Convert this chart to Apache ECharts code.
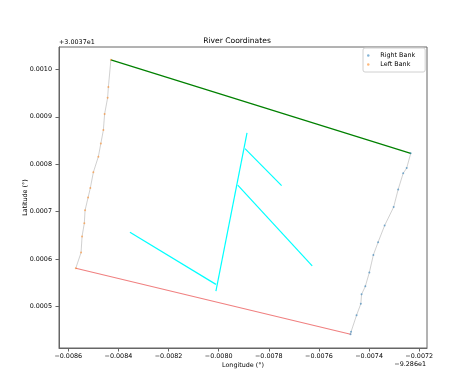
<!DOCTYPE html>
<html>
<head>
<meta charset="utf-8">
<script src="https://cdn.jsdelivr.net/npm/echarts@6/dist/echarts.min.js"></script>
<style>
  html, body { margin: 0; padding: 0; background: #fff; }
  #chart { width: 474px; height: 391px; }
</style>
</head>
<body>
<div id="chart"></div>
<script>
// values are offsets: lon = -92.86 + x, lat = 30.037 + y
var lonOffsetText = '\u22129.286e1';
var latOffsetText = '+3.0037e1';

var rightBankLon = [-0.007234, -0.007250, -0.007264, -0.007284, -0.007302, -0.007338, -0.007364, -0.007383,
    -0.007399, -0.007415, -0.007430, -0.007433, -0.007450, -0.007472, -0.007474];
var rightBankLat = [0.000823, 0.000792, 0.000781, 0.000747, 0.000710, 0.000671, 0.000636, 0.000609,
    0.000572, 0.000543, 0.000526, 0.000506, 0.000482, 0.000447, 0.000442];

var leftBankLon = [-0.008430, -0.008440, -0.008443, -0.008455, -0.008460, -0.008470, -0.008480, -0.008500,
    -0.008512, -0.008521, -0.008533, -0.008536, -0.008545, -0.008549, -0.008570];
var leftBankLat = [0.001020, 0.000963, 0.000940, 0.000906, 0.000872, 0.000844, 0.000816, 0.000783,
    0.000750, 0.000730, 0.000703, 0.000676, 0.000648, 0.000614, 0.000581];

// channel segments [lon1, lat1, lon2, lat2]
var channels = [
    [-0.008011, 0.000533, -0.007887, 0.000866],
    [-0.008354, 0.000657, -0.008011, 0.000547],
    [-0.007895, 0.000833, -0.007749, 0.000755],
    [-0.007924, 0.000756, -0.007627, 0.000586]
];

var xTicks = [-0.0086, -0.0084, -0.0082, -0.0080, -0.0078, -0.0076, -0.0074, -0.0072];
var yTicks = [0.0005, 0.0006, 0.0007, 0.0008, 0.0009, 0.0010];

function pairs(xs, ys) {
    var out = [];
    for (var i = 0; i < xs.length; i++) out.push([xs[i], ys[i]]);
    return out;
}
function fmt(v) {
    return v.toFixed(4).replace('-', '\u2212');
}

var rightPts = pairs(rightBankLon, rightBankLat);
var leftPts = pairs(leftBankLon, leftBankLat);
var last = rightPts.length - 1;

var myChart = echarts.init(document.getElementById('chart'));
var font = 'DejaVu Sans';

var series = [
    {name: 'rightLine', type: 'line', data: rightPts, showSymbol: false, silent: true,
        lineStyle: {color: '#c4c4c4', width: 0.8}},
    {name: 'leftLine', type: 'line', data: leftPts, showSymbol: false, silent: true,
        lineStyle: {color: '#c4c4c4', width: 0.8}},
    {name: 'upstream', type: 'line', data: [leftPts[0], rightPts[0]], showSymbol: false,
        lineStyle: {color: '#008000', width: 1.2}},
    {name: 'downstream', type: 'line', data: [leftPts[leftPts.length - 1], rightPts[last]], showSymbol: false,
        lineStyle: {color: '#f08080', width: 1.2}}
];
channels.forEach(function (c, i) {
    series.push({name: 'channel' + i, type: 'line', data: [[c[0], c[1]], [c[2], c[3]]], showSymbol: false,
        lineStyle: {color: '#00ffff', width: 1.2}});
});
series.push({name: 'Right Bank', type: 'scatter', data: rightPts, symbolSize: 2,
    itemStyle: {color: '#1f77b4', opacity: 0.55}, z: 5});
series.push({name: 'Left Bank', type: 'scatter', data: leftPts, symbolSize: 2,
    itemStyle: {color: '#ff7f0e', opacity: 0.55}, z: 5});

var option = {
    backgroundColor: '#fff',
    animation: false,
    title: {
        text: 'River Coordinates',
        left: 'center',
        top: 37,
        padding: 0,
        textStyle: {fontFamily: font, fontSize: 7.6, fontWeight: 'normal', color: '#000'}
    },
    legend: {
        data: ['Right Bank', 'Left Bank'],
        orient: 'vertical',
        left: 363,
        top: 48,
        padding: [4, 10, 4, 4],
        itemGap: 2,
        itemWidth: 14,
        itemHeight: 2.5,
        icon: 'circle',
        borderColor: '#d0d0d0',
        borderWidth: 1,
        borderRadius: 2,
        backgroundColor: 'rgba(255,255,255,0.8)',
        textStyle: {fontFamily: font, fontSize: 6.4, color: '#000', lineHeight: 7}
    },
    grid: {
        left: 59, top: 47, width: 368, height: 301,
        show: true, borderColor: '#666', borderWidth: 1, containLabel: false
    },
    xAxis: {
        type: 'value',
        min: -0.008637,
        max: -0.007169,
        name: 'Longitude (\u00b0)',
        nameLocation: 'middle',
        nameGap: 14.5,
        nameMoveOverlap: false,
        nameTextStyle: {fontFamily: font, fontSize: 6.4, color: '#000'},
        axisLine: {show: true, onZero: false, lineStyle: {color: '#666', width: 1}},
        axisTick: {show: true, length: 3.5, lineStyle: {color: '#666'}, customValues: xTicks},
        axisLabel: {fontFamily: font, fontSize: 6.4, color: '#000', margin: 5,
            customValues: xTicks, formatter: fmt},
        splitLine: {show: false}
    },
    yAxis: {
        type: 'value',
        min: 0.000413,
        max: 0.001047,
        name: 'Latitude (\u00b0)',
        nameLocation: 'middle',
        nameGap: 31,
        nameMoveOverlap: false,
        nameTextStyle: {fontFamily: font, fontSize: 6.4, color: '#000'},
        axisLine: {show: true, onZero: false, lineStyle: {color: '#666', width: 1}},
        axisTick: {show: true, length: 3.5, lineStyle: {color: '#666'}, customValues: yTicks},
        axisLabel: {fontFamily: font, fontSize: 6.4, color: '#000', margin: 7,
            customValues: yTicks, formatter: fmt},
        splitLine: {show: false}
    },
    graphic: [
        {type: 'text', left: 59, top: 39,
            style: {text: latOffsetText, fontFamily: font, fontSize: 6.4, fill: '#000'}},
        {type: 'text', right: 48, top: 361,
            style: {text: lonOffsetText, fontFamily: font, fontSize: 6.4, fill: '#000'}}
    ],
    series: series
};
myChart.setOption(option);
</script>
</body>
</html>
